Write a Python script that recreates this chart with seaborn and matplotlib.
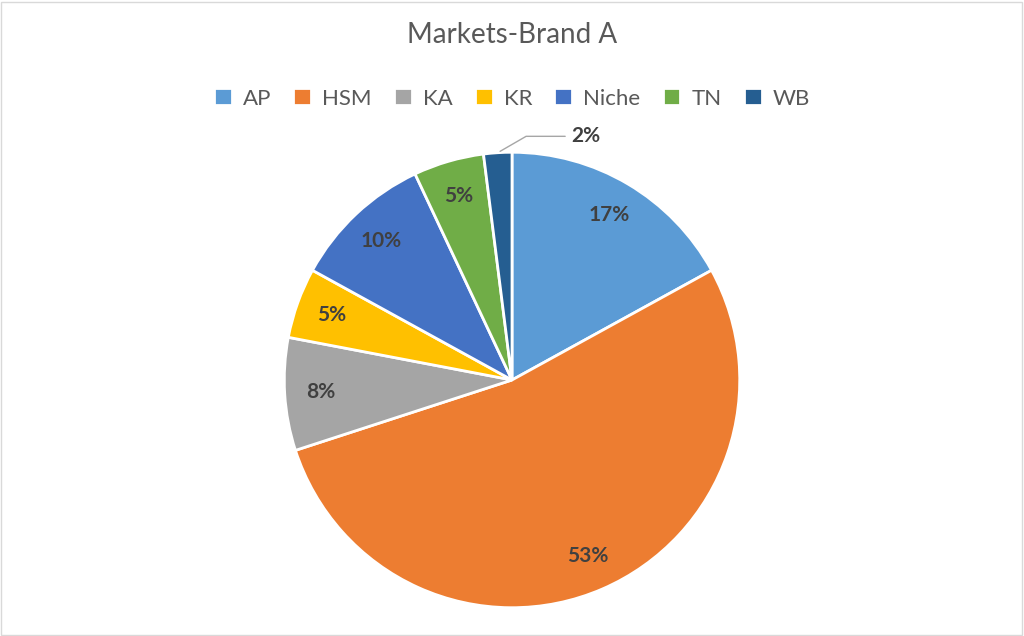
import seaborn as sns
import matplotlib.pyplot as plt
import numpy as np

# dados do gráfico
categorias = ['AP', 'HSM', 'KA', 'KR', 'Niche', 'TN', 'WB']
valores = [17, 53, 8, 5, 10, 5, 2]
cores = ['#5B9BD5', '#ED7D31', '#A5A5A5', '#FFC000', '#4472C4', '#70AD47', '#255E91']

sns.set_theme(style='white')
plt.rcParams['font.family'] = ['Lato', 'DejaVu Sans']

fig = plt.figure(figsize=(10.24, 6.36), dpi=100)
fig.patches.append(plt.Rectangle((0.001, 0.002), 0.997, 0.995, transform=fig.transFigure,
                                 fill=False, edgecolor='#D9D9D9', linewidth=1))
ax = fig.add_axes([0.2754, 0.0409, 460 / 1024, 460 / 636])

wedges, textos, pcts = ax.pie(valores, colors=cores, startangle=90, counterclock=False,
                              autopct='%1.0f%%', pctdistance=0.84,
                              wedgeprops=dict(edgecolor='white', linewidth=2))
for t in pcts:
    t.set_fontsize(15)
    t.set_fontweight('bold')
    t.set_color('#404040')

# rótulo do WB fora da fatia, com linha de chamada
pcts[-1].set_visible(False)
w = wedges[-1]
ang = np.deg2rad((w.theta1 + w.theta2) / 2)
ax.annotate('2%', xy=(np.cos(ang) * 1.0, np.sin(ang) * 1.0), xytext=(0.26, 1.07),
            fontsize=15, fontweight='bold', color='#404040', va='center', ha='left',
            annotation_clip=False,
            arrowprops=dict(arrowstyle='-', color='#A6A6A6', lw=1,
                            connectionstyle='angle,angleA=0,angleB=30,rad=0'))
ax.set_xlim(-1.01, 1.01)
ax.set_ylim(-1.01, 1.01)
ax.set_aspect('equal')

fig.text(0.5, 0.945, 'Markets-Brand A', ha='center', va='center', fontsize=20, color='#595959')
fig.legend(wedges, categorias, loc='center', bbox_to_anchor=(0.5, 0.845), ncol=7, frameon=False,
           fontsize=16, handlelength=0.8, handleheight=0.8, columnspacing=1.0, handletextpad=0.5,
           labelcolor='#595959')

plt.savefig('out.png', dpi=100)
